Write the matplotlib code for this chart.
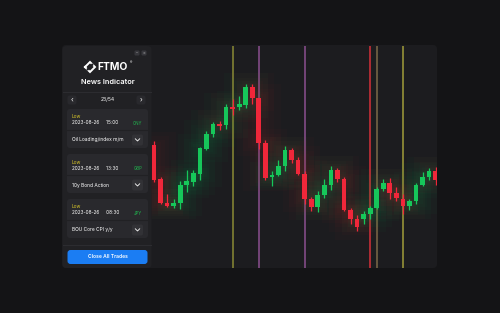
import matplotlib.pyplot as plt
from matplotlib.patches import Rectangle, FancyBboxPatch

# OHLC (arbitrary price units)
opens = [155, 121, 97.5, 94.5, 97.5, 115, 118.5, 126.5, 151.5, 166, 176.5, 175.5, 193.5, 193.5, 195.5,
         213.5, 202.5, 157.5, 123, 125, 134.5, 150, 140.5, 126.5, 101.5, 93.5, 105.5, 115.5, 130.5, 121,
         90.5, 81.5, 81.5, 86.5, 92.5, 111.5, 117.5, 107.5, 101.5, 94, 99, 115, 123.5, 129.5]
highs = [159, 123.5, 106, 101.5, 119.5, 130, 130.5, 153.5, 169.5, 178.5, 179.5, 196.5, 201, 204.5, 216.5,
         216, 202.5, 160.5, 129, 140.5, 154.5, 152, 143.5, 129.5, 103.5, 109, 121.5, 134.5, 132.5, 123.5,
         92.5, 85, 89.5, 94.5, 113, 121.5, 122.5, 113, 106.5, 101.5, 117.5, 128, 132.5, 133.5]
lows = [118.5, 96, 93, 92.5, 91, 108.5, 114, 120.5, 150.5, 163.5, 170.5, 171.5, 185, 190, 192.5,
        196, 151.5, 120.5, 114, 124, 129, 137.5, 125, 96, 89.5, 88.5, 102.5, 110, 118.5, 89,
        76, 69.5, 76.5, 81, 91, 109, 101.5, 99.5, 86, 90, 96.5, 114, 120.5, 115.5]
closes = [120, 97.5, 94.5, 97.5, 115, 119, 127, 152.5, 166.5, 176.5, 174.5, 193.5, 191.5, 196, 213.5,
          202.5, 157.5, 122.5, 125, 134, 150, 140.5, 126.5, 101.5, 93.5, 105.5, 115, 130.5, 121, 90.5,
          81.5, 73.5, 86.5, 92.5, 111.5, 117.5, 107.5, 102.5, 94, 99, 115, 123.5, 129.5, 120]

# news event markers (candle index, colour)
event_idx = [12, 16, 23, 33, 34, 38]
event_colors = ["#8a8a34", "#8c4f90", "#8c4f90", "#d6303a", "#7c6a48", "#a09c3a"]

# panel contents
news_impact = ["Low", "Low", "Low"]
news_dates = ["2023-08-26     15:00", "2023-08-26     13:30", "2023-08-26     08:30"]
news_ccy = ["CNY", "GBP", "JPY"]
news_names = ["Oil Loading/index m/m", "10y Bond Action", "BOU Core CPI y/y"]
page_label = "23/54"

W, H = 500, 313
BG = "#141416"
CHART_BG = "#1c1c1f"
PANEL_BG = "#212124"
CARD_BG = "#29292d"
GREEN = "#16c75a"
RED = "#f0273a"

plt.rcParams["font.family"] = ["Inter", "DejaVu Sans"]

fig = plt.figure(figsize=(W / 100, H / 100), dpi=100, facecolor=BG)

# chart area background (rounded) drawn in pixel space
ui_bg = fig.add_axes([0, 0, 1, 1], zorder=0)
ui_bg.set_xlim(0, W)
ui_bg.set_ylim(H, 0)
ui_bg.axis("off")
ui_bg.add_patch(FancyBboxPatch((64, 47), 371, 219, boxstyle="round,pad=2,rounding_size=4",
                               fc=CHART_BG, ec="none"))

# candle chart
left_px, right_px, top_px, bot_px = 62, 437, 46, 268
ax = fig.add_axes([left_px / W, (H - bot_px) / H, (right_px - left_px) / W, (bot_px - top_px) / H],
                  zorder=1)
ax.patch.set_alpha(0)
ax.set_xlim(-14.05, 43.2)
ax.set_ylim(32, 254)
ax.axis("off")

for i, c in zip(event_idx, event_colors):
    ax.axvline(i, color=c, lw=1.1, zorder=1)

bw = 0.72
for i, (o, h, l, c) in enumerate(zip(opens, highs, lows, closes)):
    col = GREEN if c >= o else RED
    lo, hi = min(o, c), max(o, c)
    # soft glow
    for g in [6.0, 4.0, 2.5, 1.4]:
        ax.add_patch(Rectangle((i - (bw + g) / 2, lo - g * 2.2), bw + g, (hi - lo) + g * 4.4,
                               fc=col, ec="none", alpha=0.022, zorder=2))
    ax.vlines(i, l, h, color=col, lw=0.9, zorder=3)
    ax.add_patch(Rectangle((i - bw / 2, lo), bw, max(hi - lo, 1.2), fc=col, ec="none", zorder=4))

# news panel overlay in pixel space
ui = fig.add_axes([0, 0, 1, 1], zorder=2)
ui.patch.set_alpha(0)
ui.set_xlim(0, W)
ui.set_ylim(H, 0)
ui.axis("off")

ui.add_patch(FancyBboxPatch((64.5, 48), 85, 218, boxstyle="round,pad=2,rounding_size=4",
                            fc=PANEL_BG, ec="none"))

# window buttons
for x0, s in [(134.5, "–"), (141.5, "×")]:
    ui.add_patch(FancyBboxPatch((x0, 50.5), 5, 5, boxstyle="round,pad=0,rounding_size=1",
                                fc="#37373c", ec="none"))
    ui.text(x0 + 2.5, 53, s, color="#bbbbbb", fontsize=3, ha="center", va="center")

# logo
lx, ly = 90, 67
ui.plot([lx - 5, lx, lx + 5, lx, lx - 5], [ly, ly - 5, ly, ly + 5, ly], color="white", lw=1.4,
        solid_joinstyle="miter")
ui.plot([lx - 2.2, lx + 2.2], [ly + 2.2, ly - 2.2], color=PANEL_BG, lw=1.6)
ui.text(97, 67.5, "FTMO", color="white", fontsize=7.4, fontweight="bold", ha="left", va="center")
ui.text(131, 62, "®", color="white", fontsize=2.6, ha="center", va="center")
ui.text(107.5, 82, "News Indicator", color="white", fontsize=5.3, fontweight="semibold",
        ha="center", va="center")

ui.plot([63, 151], [92, 92], color="#2c2c30", lw=0.8)

# pager
for x0, s in [(67.5, "‹"), (136.5, "›")]:
    ui.add_patch(FancyBboxPatch((x0, 95.5), 9, 9, boxstyle="round,pad=0,rounding_size=2",
                                fc=CARD_BG, ec="none"))
    ui.text(x0 + 4.5, 99.7, s, color="white", fontsize=5, ha="center", va="center")
ui.text(107.5, 100, page_label, color="white", fontsize=3.6, ha="center", va="center")

# news cards
for k in range(3):
    top = 109 + 45 * k
    ui.add_patch(FancyBboxPatch((67, top), 81, 39, boxstyle="round,pad=0,rounding_size=3",
                                fc=CARD_BG, ec="none"))
    ui.plot([67, 148], [top + 21, top + 21], color=PANEL_BG, lw=0.8)
    ui.text(71.5, top + 8, news_impact[k], color="#d9c62a", fontsize=3.4, ha="left", va="center")
    ui.text(71.5, top + 14, news_dates[k], color="white", fontsize=3.4, ha="left", va="center")
    ui.text(142.5, top + 14.3, news_ccy[k], color="#20b84f", fontsize=3.2, ha="right", va="center")
    ui.text(71.5, top + 31, news_names[k], color="white", fontsize=3.5, ha="left", va="center")
    ui.add_patch(FancyBboxPatch((132, top + 25.5), 11, 11, boxstyle="round,pad=0,rounding_size=2",
                                fc="#323236", ec="none"))
    ui.plot([135.3, 137.5, 139.7], [top + 29.8, top + 32, top + 29.8], color="white", lw=0.6)

ui.plot([63, 151], [245, 245], color="#2c2c30", lw=0.8)

# close button
ui.add_patch(FancyBboxPatch((67.5, 250), 80, 14, boxstyle="round,pad=0,rounding_size=3",
                            fc="#1b7df3", ec="none"))
ui.text(107.5, 257, "Close All Trades", color="white", fontsize=3.6, fontweight="semibold",
        ha="center", va="center")

fig.savefig("out.png", dpi=100, facecolor=BG)
